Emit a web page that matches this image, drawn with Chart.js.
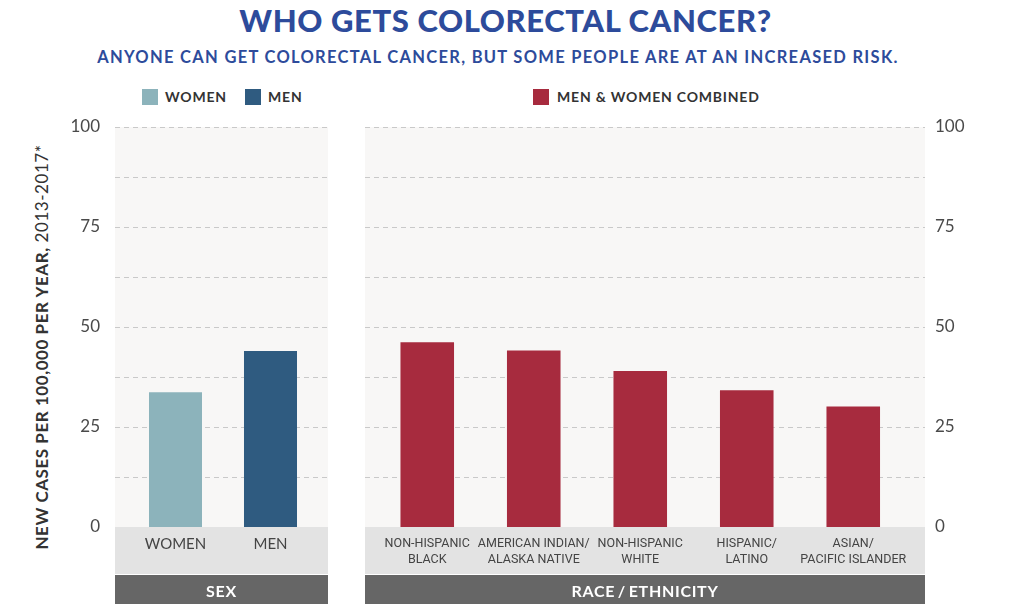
<!DOCTYPE html>
<html>
<head>
<meta charset="utf-8">
<script src="https://cdn.jsdelivr.net/npm/chart.js@4.4.1/dist/chart.umd.min.js"></script>
<style>
  body { margin: 0; background: #fff; font-family: "Lato", "Open Sans", sans-serif; }
  #wrap { position: relative; width: 1011px; height: 604px; overflow: hidden; }
  .txt { position: absolute; white-space: nowrap; }
  #title { left: 0; width: 1011px; top: 2px; height: 36px; line-height: 36px; text-align: center;
           font-size: 31px; font-weight: 900; color: #2d4b9b; letter-spacing: 0.6px; }
  #subtitle { left: 0; width: 996px; top: 46px; height: 22px; line-height: 22px; text-align: center;
              font-size: 16.5px; font-weight: 700; color: #2d4b9b; letter-spacing: 1.3px; }
  .leg { top: 88px; height: 18px; line-height: 18px; font-size: 14px; font-weight: 700; color: #333; letter-spacing: 0.8px; }
  .sw { position: absolute; top: 89px; width: 16px; height: 16px; }
  #ytitle { left: -168px; top: 337px; width: 420px; height: 20px; line-height: 20px; text-align: center;
            transform: rotate(-90deg); font-size: 17px; font-weight: 700; color: #333; letter-spacing: 0.55px; }
  #ytitle span { font-weight: 400; }
  .band { top: 577px; height: 27px; line-height: 27px; text-align: center; color: #fff;
          font-size: 16px; font-weight: 700; letter-spacing: 0.7px; }
  canvas { position: absolute; }
</style>
</head>
<body>
<div id="wrap">
  <div class="txt" id="title">WHO GETS COLORECTAL CANCER?</div>
  <div class="txt" id="subtitle">ANYONE CAN GET COLORECTAL CANCER, BUT SOME PEOPLE ARE AT AN INCREASED RISK.</div>

  <div class="sw" style="left:142px;background:#8cb3bb"></div>
  <div class="txt leg" style="left:165px">WOMEN</div>
  <div class="sw" style="left:245px;background:#2f5b80"></div>
  <div class="txt leg" style="left:268px">MEN</div>
  <div class="sw" style="left:533px;background:#a72b3e"></div>
  <div class="txt leg" style="left:557px">MEN &amp; WOMEN COMBINED</div>

  <div class="txt" id="ytitle">NEW CASES PER 100,000 PER YEAR,<span> 2013-2017*</span></div>

  <canvas id="sexChart" style="left:0;top:110px"></canvas>
  <canvas id="raceChart" style="left:355px;top:110px"></canvas>

  <div class="txt band" style="left:115px;width:213px">SEX</div>
  <div class="txt band" style="left:365px;width:560px">RACE&thinsp;/&thinsp;ETHNICITY</div>
</div>

<script>
// data
const sexLabels = ['WOMEN', 'MEN'];
const sexValues = [33.7, 44.0];
const raceLabels = [
  ['NON-HISPANIC', 'BLACK'],
  ['AMERICAN INDIAN/', 'ALASKA NATIVE'],
  ['NON-HISPANIC', 'WHITE'],
  ['HISPANIC/', 'LATINO'],
  ['ASIAN/', 'PACIFIC ISLANDER']
];
const raceValues = [46.2, 44.1, 39.0, 34.2, 30.1];
const yTicks = [0, 25, 50, 75, 100];

const sexColors = ['#8cb3bb', '#2f5b80'];
const raceColor = '#a72b3e';

// panel background, dashed grid and category bands
const panelPlugin = {
  id: 'panel',
  beforeDraw(chart, args, opts) {
    const { ctx, chartArea, scales } = chart;
    const left = chartArea.left - opts.extendLeft;
    const right = chartArea.right + opts.extendRight;
    const y = scales.y;
    const top = y.getPixelForValue(100);
    ctx.save();
    ctx.fillStyle = '#f8f7f6';
    ctx.fillRect(left, top, right - left, chartArea.bottom - top);
    ctx.fillStyle = '#e3e3e3';
    ctx.fillRect(left, chartArea.bottom, right - left, 464 - chartArea.bottom);
    ctx.fillStyle = '#666666';
    ctx.fillRect(left, 465, right - left, chart.height - 465);
    ctx.strokeStyle = '#c9c9c9';
    ctx.lineWidth = 1;
    ctx.setLineDash([5, 4]);
    for (let v = 12.5; v <= 100; v += 12.5) {
      const py = Math.round(y.getPixelForValue(v)) + 0.5;
      ctx.beginPath();
      ctx.moveTo(left, py);
      ctx.lineTo(right, py);
      ctx.stroke();
    }
    ctx.restore();
  }
};

function makeChart(id, w, labels, values, colors, opts) {
  const canvas = document.getElementById(id);
  canvas.width = w;
  canvas.height = 494;
  canvas.style.width = w + 'px';
  canvas.style.height = '494px';
  return new Chart(canvas, {
    type: 'bar',
    data: {
      labels: labels,
      datasets: [{
        data: values,
        backgroundColor: colors,
        borderWidth: 0,
        categoryPercentage: 1,
        barPercentage: opts.barPct
      }]
    },
    options: {
      responsive: false,
      animation: false,
      devicePixelRatio: 1,
      layout: { padding: opts.padding },
      plugins: {
        legend: { display: false },
        tooltip: { enabled: false },
        panel: { extendLeft: opts.extendLeft, extendRight: opts.extendRight }
      },
      scales: {
        x: {
          grid: { display: false, drawTicks: false },
          border: { display: false },
          ticks: {
            color: '#444',
            padding: opts.xPad,
            maxRotation: 0,
            autoSkip: false,
            font: opts.xFont
          },
          afterFit(scale) {
            scale.height = 77;
            scale.paddingLeft = 0;
            scale.paddingRight = 0;
          }
        },
        y: {
          position: opts.yPos,
          min: 0,
          max: 100,
          grid: { display: false, drawTicks: false },
          border: { display: false },
          ticks: {
            stepSize: 12.5,
            color: '#4a4a4a',
            padding: opts.yPad,
            font: { family: 'Lato, "Open Sans", sans-serif', size: 17 },
            callback: (v) => yTicks.includes(v) ? String(v) : ''
          },
          afterFit(scale) {
            scale.width = opts.yWidth;
            scale.paddingTop = 0;
            scale.paddingBottom = 0;
          }
        }
      }
    },
    plugins: [panelPlugin]
  });
}

makeChart('sexChart', 345, sexLabels, sexValues, sexColors, {
  padding: { top: 17, right: 27, left: 0, bottom: 0 },
  extendLeft: 13, extendRight: 10,
  barPct: 0.558,
  yPos: 'left', yWidth: 128, yPad: 28,
  xPad: 8,
  xFont: { family: 'Lato, "Open Sans", sans-serif', size: 15 }
});

makeChart('raceChart', 656, raceLabels, raceValues, raceColor, {
  padding: { top: 17, right: 0, left: 19, bottom: 0 },
  extendLeft: 9, extendRight: 18.5,
  barPct: 0.503,
  yPos: 'right', yWidth: 104.5, yPad: 28.5,
  xPad: 8,
  xFont: { family: '"Liberation Sans Narrow", "Roboto", sans-serif', size: 12.5, lineHeight: 1.35 }
});
</script>
</body>
</html>
